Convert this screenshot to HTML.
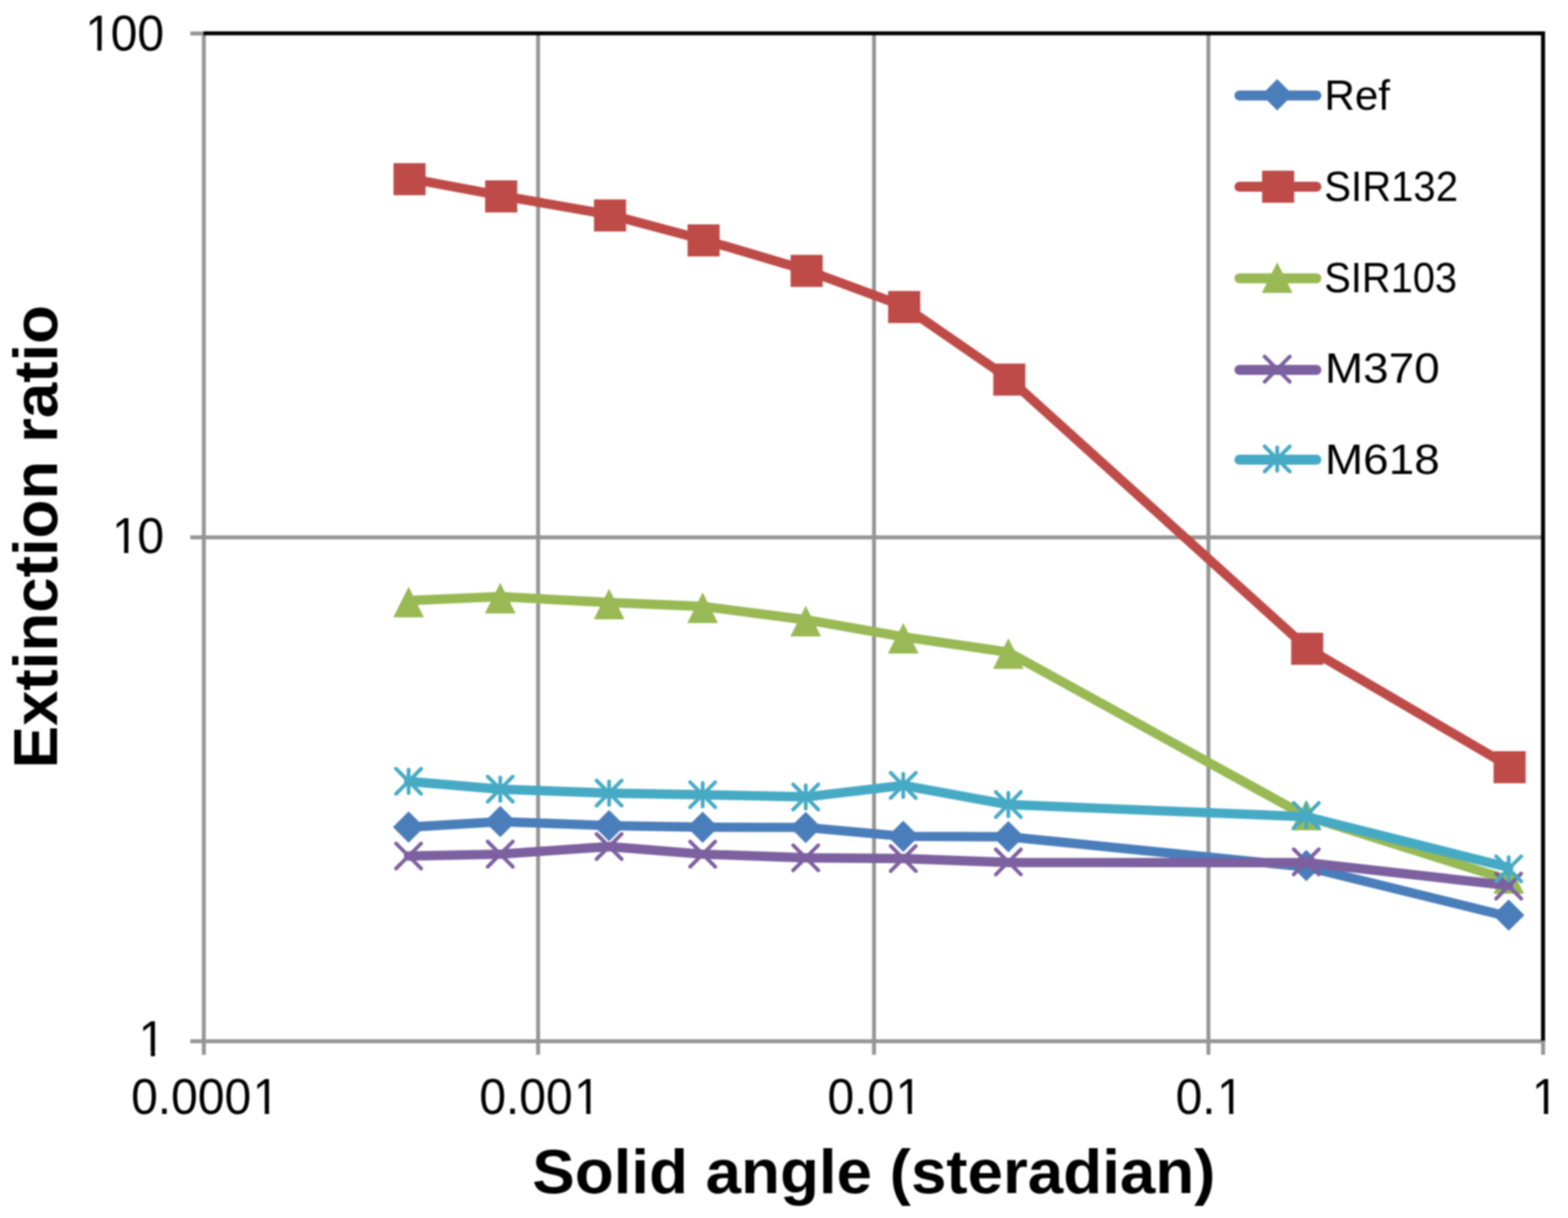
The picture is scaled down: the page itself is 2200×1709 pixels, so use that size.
<!DOCTYPE html>
<html lang="en">
<head>
<meta charset="utf-8">
<title>Extinction ratio</title>
<style>
html,body{margin:0;padding:0;background:#fff;}
body{width:2200px;height:1709px;overflow:hidden;}
svg{display:block;filter:blur(0.9px);}
.tick{font-family:"Liberation Sans",sans-serif;font-size:70.5px;fill:#000;}
.title{font-family:"Liberation Sans",sans-serif;font-size:88px;font-weight:bold;fill:#000;}
.leg{font-family:"Liberation Sans",sans-serif;font-size:60px;fill:#000;}
</style>
</head>
<body>
<svg width="2200" height="1709" viewBox="0 0 2200 1709">
<rect width="2200" height="1709" fill="#fff"/>
<g stroke="#959595" stroke-width="5.5" fill="none">
<line x1="755" y1="47" x2="755" y2="1480"/>
<line x1="1226.3" y1="47" x2="1226.3" y2="1480"/>
<line x1="1695.5" y1="47" x2="1695.5" y2="1480"/>
<line x1="267" y1="754" x2="2165" y2="754"/>
<line x1="286" y1="44" x2="286" y2="1480"/>
<line x1="267" y1="1461" x2="2168" y2="1461"/>
<line x1="267" y1="47" x2="286" y2="47"/>
<line x1="2165" y1="1461" x2="2165" y2="1480"/>
</g>
<path d="M285.5 46.8L2165 46.8L2165 1460" stroke="#000" stroke-width="5.6" fill="none" stroke-linejoin="miter"/>
<g>
<polyline points="573.3,1160.6 701.9,1152.8 854.6,1158.5 985.9,1160.7 1130.5,1161 1267.3,1173.5 1414.8,1174.1 1832.8,1216.4 2116.8,1286.1" stroke="#4a7ebb" stroke-width="13.2" fill="none" stroke-linejoin="round" stroke-linecap="round"/>
<path d="M573.3 1138.6L595.3 1160.6L573.3 1182.6L551.3 1160.6Z" fill="#4a7ebb"/>
<path d="M701.9 1130.8L723.9 1152.8L701.9 1174.8L679.9 1152.8Z" fill="#4a7ebb"/>
<path d="M854.6 1136.5L876.6 1158.5L854.6 1180.5L832.6 1158.5Z" fill="#4a7ebb"/>
<path d="M985.9 1138.7L1007.9 1160.7L985.9 1182.7L963.9 1160.7Z" fill="#4a7ebb"/>
<path d="M1130.5 1139L1152.5 1161L1130.5 1183L1108.5 1161Z" fill="#4a7ebb"/>
<path d="M1267.3 1151.5L1289.3 1173.5L1267.3 1195.5L1245.3 1173.5Z" fill="#4a7ebb"/>
<path d="M1414.8 1152.1L1436.8 1174.1L1414.8 1196.1L1392.8 1174.1Z" fill="#4a7ebb"/>
<path d="M1832.8 1192.4L1854.8 1214.4L1832.8 1236.4L1810.8 1214.4Z" fill="#4a7ebb"/>
<path d="M2116.8 1262.1L2138.8 1284.1L2116.8 1306.1L2094.8 1284.1Z" fill="#4a7ebb"/>
</g>
<g>
<polyline points="574.6,250.4 703.2,274.6 855.9,301.3 987.2,336.3 1131.8,379.1 1268.6,429.8 1416.1,531.6 1834.1,909.3 2118.1,1075.5" stroke="#be4b48" stroke-width="13.2" fill="none" stroke-linejoin="round" stroke-linecap="round"/>
<rect x="552.1" y="228.9" width="45" height="45" fill="#be4b48"/>
<rect x="680.7" y="253.1" width="45" height="45" fill="#be4b48"/>
<rect x="833.4" y="279.8" width="45" height="45" fill="#be4b48"/>
<rect x="964.7" y="314.8" width="45" height="45" fill="#be4b48"/>
<rect x="1109.3" y="357.6" width="45" height="45" fill="#be4b48"/>
<rect x="1246.1" y="408.3" width="45" height="45" fill="#be4b48"/>
<rect x="1393.6" y="510.1" width="45" height="45" fill="#be4b48"/>
<rect x="1811.6" y="887.8" width="45" height="45" fill="#be4b48"/>
<rect x="2095.6" y="1054" width="45" height="45" fill="#be4b48"/>
</g>
<g>
<polyline points="573.3,842.7 701.9,837.2 854.6,845.4 985.9,850.8 1130.5,869.6 1267.3,893.5 1414.8,915.1 1832.8,1145.3 2116.8,1234.7" stroke="#98b954" stroke-width="13.2" fill="none" stroke-linejoin="round" stroke-linecap="round"/>
<path d="M573.3 823.2L594.8 866.2L551.8 866.2Z" fill="#98b954"/>
<path d="M701.9 817.7L723.4 860.7L680.4 860.7Z" fill="#98b954"/>
<path d="M854.6 825.9L876.1 868.9L833.1 868.9Z" fill="#98b954"/>
<path d="M985.9 831.3L1007.4 874.3L964.4 874.3Z" fill="#98b954"/>
<path d="M1130.5 850.1L1152 893.1L1109 893.1Z" fill="#98b954"/>
<path d="M1267.3 874L1288.8 917L1245.8 917Z" fill="#98b954"/>
<path d="M1414.8 895.6L1436.3 938.6L1393.3 938.6Z" fill="#98b954"/>
<path d="M1832.8 1122L1854.3 1165L1811.3 1165Z" fill="#98b954"/>
<path d="M2116.8 1211L2138.3 1254L2095.3 1254Z" fill="#98b954"/>
</g>
<g>
<polyline points="573.3,1201.1 701.9,1198.5 854.6,1187.8 985.9,1198.5 1130.5,1203.6 1267.3,1204.6 1414.8,1210.2 1832.8,1210.3 2116.8,1242.5" stroke="#7d60a0" stroke-width="13.2" fill="none" stroke-linejoin="round" stroke-linecap="round"/>
<path d="M555.7 1183.5L590.9 1218.7M555.7 1218.7L590.9 1183.5" stroke="#7d60a0" stroke-width="5.3" stroke-linecap="round" fill="none"/>
<path d="M684.3 1180.9L719.5 1216.1M684.3 1216.1L719.5 1180.9" stroke="#7d60a0" stroke-width="5.3" stroke-linecap="round" fill="none"/>
<path d="M837 1170.2L872.2 1205.4M837 1205.4L872.2 1170.2" stroke="#7d60a0" stroke-width="5.3" stroke-linecap="round" fill="none"/>
<path d="M968.3 1180.9L1003.5 1216.1M968.3 1216.1L1003.5 1180.9" stroke="#7d60a0" stroke-width="5.3" stroke-linecap="round" fill="none"/>
<path d="M1112.9 1186L1148.1 1221.2M1112.9 1221.2L1148.1 1186" stroke="#7d60a0" stroke-width="5.3" stroke-linecap="round" fill="none"/>
<path d="M1249.7 1187L1284.9 1222.2M1249.7 1222.2L1284.9 1187" stroke="#7d60a0" stroke-width="5.3" stroke-linecap="round" fill="none"/>
<path d="M1397.2 1191.8L1432.4 1227M1397.2 1227L1432.4 1191.8" stroke="#7d60a0" stroke-width="5.3" stroke-linecap="round" fill="none"/>
<path d="M1815.2 1191.7L1850.4 1226.9M1815.2 1226.9L1850.4 1191.7" stroke="#7d60a0" stroke-width="5.3" stroke-linecap="round" fill="none"/>
<path d="M2099.2 1225.7L2134.4 1260.9M2099.2 1260.9L2134.4 1225.7" stroke="#7d60a0" stroke-width="5.3" stroke-linecap="round" fill="none"/>
</g>
<g>
<polyline points="573.3,1096.3 701.9,1107.3 854.6,1112.8 985.9,1115.1 1130.5,1118.2 1267.3,1102 1414.8,1128.9 1832.8,1146 2116.8,1217.1" stroke="#46aac5" stroke-width="13.2" fill="none" stroke-linejoin="round" stroke-linecap="round"/>
<path d="M555.7 1078.7L590.9 1113.9M555.7 1113.9L590.9 1078.7M573.3 1079.9L573.3 1112.7" stroke="#46aac5" stroke-width="5.3" stroke-linecap="round" fill="none"/>
<path d="M684.3 1089.7L719.5 1124.9M684.3 1124.9L719.5 1089.7M701.9 1090.9L701.9 1123.7" stroke="#46aac5" stroke-width="5.3" stroke-linecap="round" fill="none"/>
<path d="M837 1095.2L872.2 1130.4M837 1130.4L872.2 1095.2M854.6 1096.4L854.6 1129.2" stroke="#46aac5" stroke-width="5.3" stroke-linecap="round" fill="none"/>
<path d="M968.3 1097.5L1003.5 1132.7M968.3 1132.7L1003.5 1097.5M985.9 1098.7L985.9 1131.5" stroke="#46aac5" stroke-width="5.3" stroke-linecap="round" fill="none"/>
<path d="M1112.9 1100.6L1148.1 1135.8M1112.9 1135.8L1148.1 1100.6M1130.5 1101.8L1130.5 1134.6" stroke="#46aac5" stroke-width="5.3" stroke-linecap="round" fill="none"/>
<path d="M1249.7 1084.4L1284.9 1119.6M1249.7 1119.6L1284.9 1084.4M1267.3 1085.6L1267.3 1118.4" stroke="#46aac5" stroke-width="5.3" stroke-linecap="round" fill="none"/>
<path d="M1397.2 1111.3L1432.4 1146.5M1397.2 1146.5L1432.4 1111.3M1414.8 1112.5L1414.8 1145.3" stroke="#46aac5" stroke-width="5.3" stroke-linecap="round" fill="none"/>
<path d="M1815.2 1126.6L1850.4 1161.8M1815.2 1161.8L1850.4 1126.6M1832.8 1127.8L1832.8 1160.6" stroke="#46aac5" stroke-width="5.3" stroke-linecap="round" fill="none"/>
<path d="M2099.2 1201.5L2134.4 1236.7M2099.2 1236.7L2134.4 1201.5M2116.8 1202.7L2116.8 1235.5" stroke="#46aac5" stroke-width="5.3" stroke-linecap="round" fill="none"/>
</g>
<g>
<line x1="1739" y1="134" x2="1847" y2="134" stroke="#4a7ebb" stroke-width="14" stroke-linecap="round"/>
<path d="M1792 111L1814 133L1792 155L1770 133Z" fill="#4a7ebb"/>
<text class="leg" x="1858.2" y="153.5" textLength="92" lengthAdjust="spacingAndGlyphs">Ref</text>
</g>
<g>
<line x1="1739" y1="262" x2="1847" y2="262" stroke="#be4b48" stroke-width="14" stroke-linecap="round"/>
<rect x="1770.8" y="239.5" width="45" height="45" fill="#be4b48"/>
<text class="leg" x="1858" y="281.5" textLength="187.7" lengthAdjust="spacingAndGlyphs">SIR132</text>
</g>
<g>
<line x1="1739" y1="390.5" x2="1847" y2="390.5" stroke="#98b954" stroke-width="14" stroke-linecap="round"/>
<path d="M1792 368L1813.5 411L1770.5 411Z" fill="#98b954"/>
<text class="leg" x="1858" y="410" textLength="186.4" lengthAdjust="spacingAndGlyphs">SIR103</text>
</g>
<g>
<line x1="1739" y1="519" x2="1847" y2="519" stroke="#7d60a0" stroke-width="14" stroke-linecap="round"/>
<path d="M1774.4 500.4L1809.6 535.6M1774.4 535.6L1809.6 500.4" stroke="#7d60a0" stroke-width="5.3" stroke-linecap="round" fill="none"/>
<text class="leg" x="1859" y="536.5" textLength="161" lengthAdjust="spacingAndGlyphs">M370</text>
</g>
<g>
<line x1="1739" y1="645" x2="1847" y2="645" stroke="#46aac5" stroke-width="14" stroke-linecap="round"/>
<path d="M1774.4 626.4L1809.6 661.6M1774.4 661.6L1809.6 626.4M1792 627.6L1792 660.4" stroke="#46aac5" stroke-width="5.3" stroke-linecap="round" fill="none"/>
<text class="leg" x="1859" y="664.6" textLength="161" lengthAdjust="spacingAndGlyphs">M618</text>
</g>
<clipPath id="c1"><path clip-rule="evenodd" d="M97.7 -8.7H260.1V101.3H97.7ZM123 64.5H136.6V74.3H123ZM142.6 64.5H156.1V74.3H142.6Z"/></clipPath>
<g clip-path="url(#c1)"><text class="tick" transform="translate(117.7 71.3) scale(0.9560 1)" x="2.1 39.2 78.4" y="0">100</text></g>
<clipPath id="c2"><path clip-rule="evenodd" d="M135.2 695.5H260.1V805.5H135.2ZM160.5 768.7H174.1V778.5H160.5ZM180.1 768.7H193.5V778.5H180.1Z"/></clipPath>
<g clip-path="url(#c2)"><text class="tick" transform="translate(155.2 775.5) scale(0.9560 1)" x="2.1 39.2" y="0">10</text></g>
<clipPath id="c3"><path clip-rule="evenodd" d="M172.6 1402H260.1V1512H172.6ZM198 1475.2H211.6V1485H198ZM217.5 1475.2H231V1485H217.5Z"/></clipPath>
<g clip-path="url(#c3)"><text class="tick" transform="translate(192.6 1482) scale(0.9560 1)" x="2.1" y="0">1</text></g>
<clipPath id="c4"><path clip-rule="evenodd" d="M163.9 1482.7H420.1V1592.7H163.9ZM358 1555.9H371.5V1565.7H358ZM377.5 1555.9H391V1565.7H377.5Z"/></clipPath>
<g clip-path="url(#c4)"><text class="tick" transform="translate(183.9 1562.7) scale(0.9560 1)" x="0 39.2 58.8 98 137.2 178.5" y="0">0.0001</text></g>
<clipPath id="c5"><path clip-rule="evenodd" d="M652.4 1482.7H871.1V1592.7H652.4ZM809 1555.9H822.5V1565.7H809ZM828.5 1555.9H842V1565.7H828.5Z"/></clipPath>
<g clip-path="url(#c5)"><text class="tick" transform="translate(672.4 1562.7) scale(0.9560 1)" x="0 39.2 58.8 98 139.3" y="0">0.001</text></g>
<clipPath id="c6"><path clip-rule="evenodd" d="M1140.9 1482.7H1322.1V1592.7H1140.9ZM1260 1555.9H1273.6V1565.7H1260ZM1279.5 1555.9H1293V1565.7H1279.5Z"/></clipPath>
<g clip-path="url(#c6)"><text class="tick" transform="translate(1160.9 1562.7) scale(0.9560 1)" x="0 39.2 58.8 100.1" y="0">0.01</text></g>
<clipPath id="c7"><path clip-rule="evenodd" d="M1629.4 1482.7H1773.1V1592.7H1629.4ZM1711 1555.9H1724.6V1565.7H1711ZM1730.5 1555.9H1744V1565.7H1730.5Z"/></clipPath>
<g clip-path="url(#c7)"><text class="tick" transform="translate(1649.4 1562.7) scale(0.9560 1)" x="0 39.2 60.9" y="0">0.1</text></g>
<clipPath id="c8"><path clip-rule="evenodd" d="M2127.3 1482.7H2214.7V1592.7H2127.3ZM2152.6 1555.9H2166.2V1565.7H2152.6ZM2172.2 1555.9H2185.7V1565.7H2172.2Z"/></clipPath>
<g clip-path="url(#c8)"><text class="tick" transform="translate(2147.3 1562.7) scale(0.9560 1)" x="2.1" y="0">1</text></g>
<text class="title" x="746.8" y="1674" textLength="958.5" lengthAdjust="spacingAndGlyphs">Solid angle (steradian)</text>
<text class="title" transform="translate(80.4 1078.2) rotate(-90)" textLength="650.3" lengthAdjust="spacingAndGlyphs">Extinction ratio</text>
</svg>
</body>
</html>
